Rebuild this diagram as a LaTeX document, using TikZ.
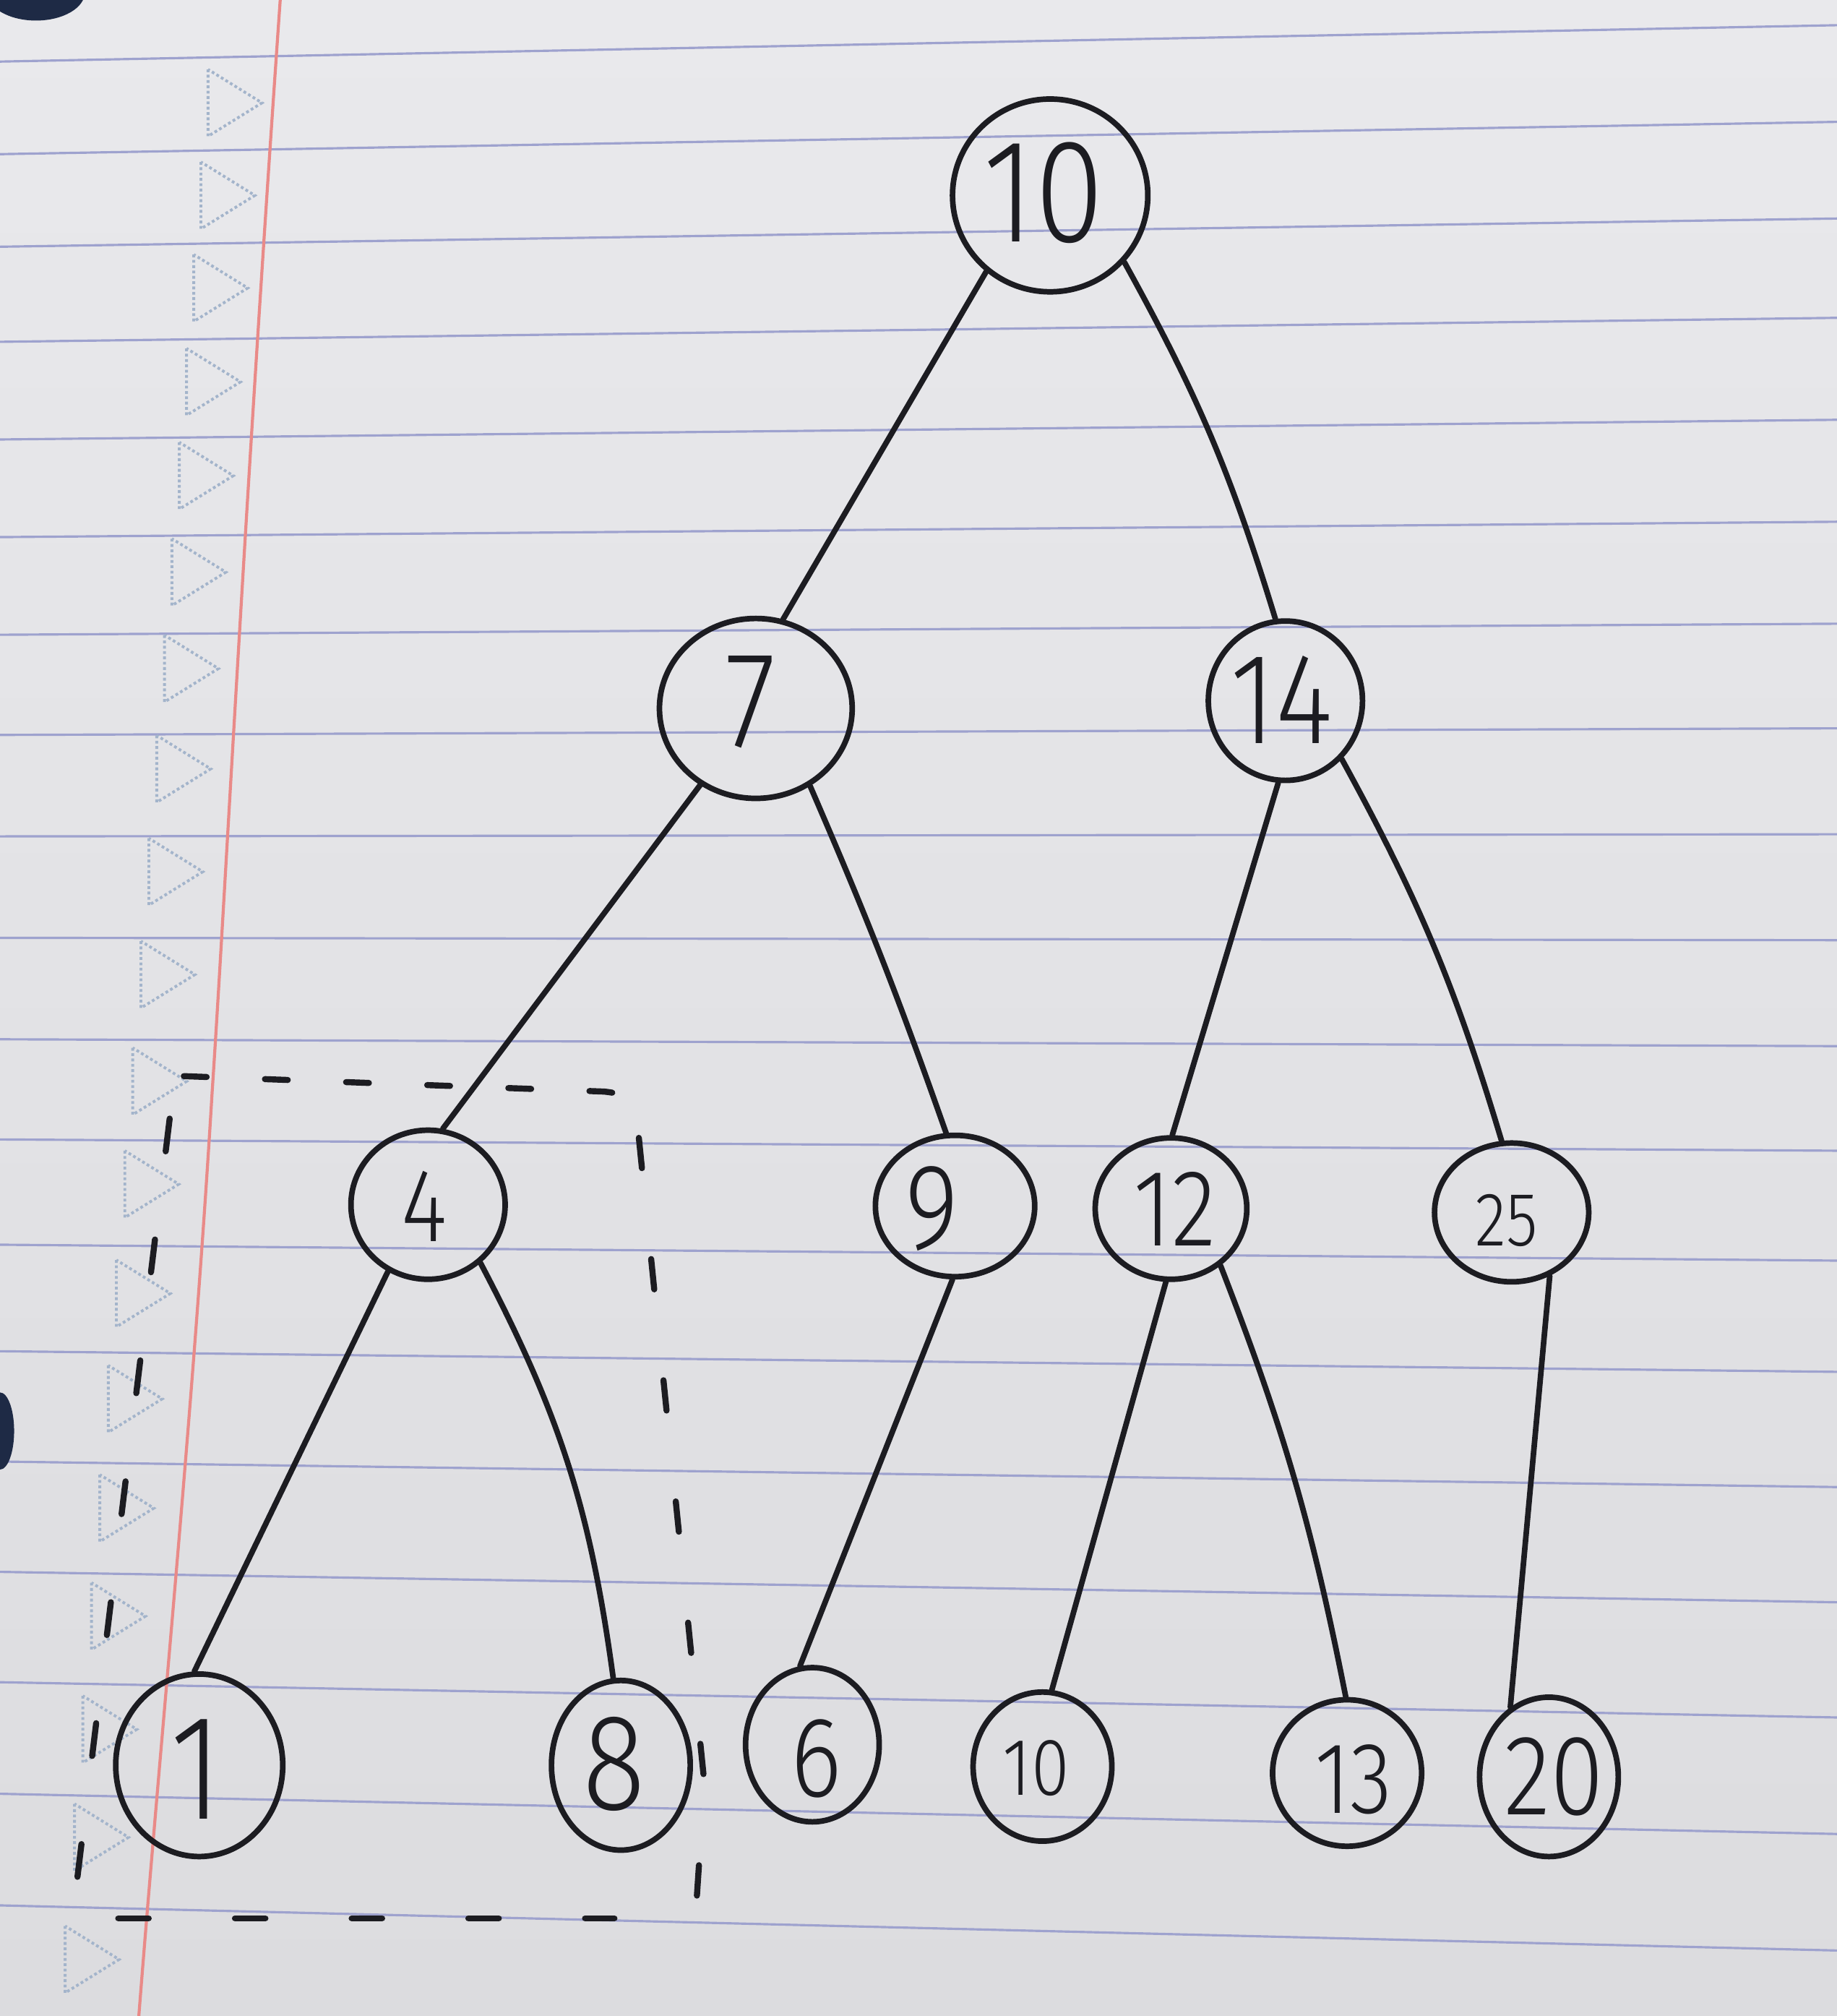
\documentclass[tikz,border=0pt]{standalone}
\usepackage{fontspec}
\newfontfamily\hand{Fira Sans Light}[FakeStretch=0.85,Numbers=Proportional]
\usetikzlibrary{shapes.geometric}
\definecolor{paperA}{HTML}{E9E9EC}
\definecolor{paperB}{HTML}{DCDCDF}
\definecolor{rulec}{HTML}{9EA2CE}
\definecolor{marginc}{HTML}{E98A88}
\definecolor{ink}{HTML}{1C1C21}
\definecolor{tric}{HTML}{A3B4CB}
\definecolor{navy}{HTML}{1E2A45}
\tikzset{
  vtx/.style={ellipse, draw=ink, line width=2.2pt, inner sep=0pt},
  sz/.style 2 args={minimum width=#1*0.0356cm, minimum height=#2*0.0356cm},
  numtext/.style={inner sep=0pt, text=ink},
  fs/.style={font=\hand\fontsize{#1}{#1}\selectfont},
  edge/.style={draw=ink, line width=2.2pt, line cap=round},
  boxline/.style={draw=ink, line width=2.4pt, line cap=round},
  ruled/.style={draw=rulec, line width=0.9pt},
  marginline/.style={draw=marginc, line width=1.2pt},
  tri/.style={draw=tric, line width=1.1pt, densely dotted},
}
\begin{document}
\begin{tikzpicture}[x=0.0178cm,y=-0.0178cm]
\useasboundingbox (0,0) rectangle (1429,1568);
% paper
\shade[top color=paperA, bottom color=paperB] (0,0) rectangle (1429,1568);
\foreach \yy in {39,112,185,260,337,414,491,570,650,730,810,889,972,1056,1143,1230,1317,1405,1493}{
  \pgfmathsetmacro\ss{-0.021+0.0000375*\yy}
  \draw[ruled] (0,{\yy-450*\ss}) -- (1429,{\yy+979*\ss});
}
\draw[marginline] (218,0) .. controls (190,400) and (175,700) .. (165,850) .. controls (150,1100) and (125,1350) .. (108,1568);
\foreach \ty in {80,152,224,297,370,445,520,598,678,758,841,921,1006,1088,1173,1257,1345,1429,1524}{
  \pgfmathsetmacro\tx{168-0.077*\ty}
  \draw[tri] (\tx,\ty-26) -- (\tx,\ty+26) -- (\tx+42,\ty) -- cycle;
}
\fill[navy] (28,-6) ellipse [x radius=38, y radius=22];
\fill[navy] (0,1113) ellipse [x radius=11, y radius=30];

% dashed box
\draw[boxline, dash pattern=on 9pt off 23pt] (143,837) -- (470,849) .. controls (480,850) and (486,852) .. (490,856);
\draw[boxline, dash pattern=on 12pt off 36pt] (497,885) -- (548,1387) -- (541,1492);
\draw[boxline, dash pattern=on 12pt off 34pt] (92,1492) -- (478,1492);
\draw[boxline, dash pattern=on 13pt off 35pt] (132,870) -- (60,1462);

% vertices
\node[vtx, sz={76}{75}] (r)   at (817,152) {};
\node[vtx, sz={75}{70}] (n7)  at (588,551) {};
\node[vtx, sz={60}{62}] (n14) at (1000,545) {};
\node[vtx, sz={60}{58}] (n4)  at (333,937) {};
\node[vtx, sz={62}{55}] (n9)  at (743,938) {};
\node[vtx, sz={59}{55}] (n12) at (911,940) {};
\node[vtx, sz={60}{54}] (n25) at (1176,943) {};
\node[vtx, sz={65}{71}] (n1)  at (155,1373) {};
\node[vtx, sz={54}{66}] (n8)  at (483,1373) {};
\node[vtx, sz={52}{60}] (n6)  at (632,1357) {};
\node[vtx, sz={54}{58}] (l10) at (811,1374) {};
\node[vtx, sz={58}{57}] (n13) at (1048,1379) {};
\node[vtx, sz={54}{62}] (n20) at (1205,1382) {};

% texts
\node[numtext, fs=58] (tr)   at (812,150)  {10};
\node[numtext, fs=54] (t7)   at (584,546)  {7};
\node[numtext, fs=51] (t14)  at (997,544)  {14};
\node[numtext, fs=41] (t4)   at (330,938)  {4};
\node[numtext, fs=48] (t9)   at (725,940)  {9};
\node[numtext, fs=43] (t12)  at (914,940)  {12};
\node[numtext, fs=30] (t25)  at (1172,949) {25};
\node[numtext, fs=59] (t1)   at (153,1376) {1};
\node[numtext, fs=54] (t8)   at (478,1372) {8};
\node[numtext, fs=45] (t6)   at (635,1368) {6};
\node[numtext, fs=32] (tl10) at (806,1375) {10};
\node[numtext, fs=40] (t13)  at (1053,1384) {13};
\node[numtext, fs=45] (t20)  at (1209,1382) {20};

% edges
\draw[edge] (r.230) -- (n7.73);
\draw[edge] (r.318) to[bend left=6] (n14.97);
\draw[edge] (n7.234) -- (n4.79);
\draw[edge] (n7.305) to[bend left=2] (n9.97);
\draw[edge] (n14.265) -- (n12.89);
\draw[edge] (n14.314) to[bend left=6] (n25.98);
\draw[edge] (n4.239) -- (n1.93);
\draw[edge] (n4.312) to[bend left=10] (n8.95);
\draw[edge] (n9.268) -- (n6.99);
\draw[edge] (n12.266) -- (l10.83);
\draw[edge] (n12.311) to[bend left=5] (n13.91);
\draw[edge] (n25.301) -- (n20.119);
\end{tikzpicture}
\end{document}
